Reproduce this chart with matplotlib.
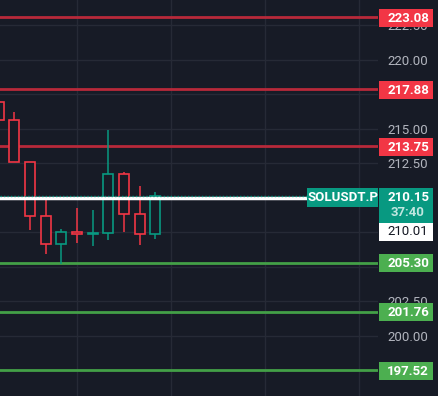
import matplotlib
matplotlib.use("Agg")
import matplotlib.pyplot as plt
import numpy as np
from matplotlib.patches import Rectangle
from matplotlib.transforms import blended_transform_factory

# ---- data ----
opens  = [216.92, 215.62, 212.57, 208.66, 206.63, 207.50, 207.36, 207.45, 211.70, 208.80, 207.36]
closes = [215.62, 212.57, 208.66, 206.63, 207.50, 207.36, 207.45, 211.70, 208.80, 207.36, 210.15]
highs  = [216.92, 216.22, 212.57, 209.91, 207.74, 209.26, 209.12, 214.91, 211.87, 210.86, 210.42]
lows   = [215.62, 212.57, 207.69, 205.95, 205.20, 206.75, 206.53, 206.96, 207.54, 206.60, 207.04]

red_levels = [223.08, 217.88, 213.75]
green_levels = [205.30, 201.76, 197.52]
last_price = 210.15
white_level = 210.01
symbol = "SOLUSDT.P"
countdown = "37:40"
y_ticks = [197.5, 200.0, 202.5, 205.0, 207.5, 210.0, 212.5, 215.0, 217.5, 220.0, 222.5]
# tick labels hidden behind price boxes in the reference
hidden_ticks = [197.5, 205.0, 207.5, 210.0, 217.5]

# ---- style ----
BG = "#171b26"
GRID = "#262a36"
RED = "#f23645"
TEAL = "#089981"
RED_LINE = "#b8293a"
GREEN = "#4caf50"
GREEN_LINE = "#43a047"
TICK = "#b2b5be"
FONT = "Roboto"

W, H = 438, 396
fig = plt.figure(figsize=(W / 100, H / 100), dpi=100)
fig.patch.set_facecolor(BG)
ax = fig.add_axes([0, 0, 378 / W, 1])
ax.set_facecolor(BG)
ymin, ymax = 195.64, 224.33
ax.set_xlim(0.08, 24.233)
ax.set_ylim(ymin, ymax)
upp = (ymax - ymin) / H  # data units per pixel

for s in ax.spines.values():
    s.set_visible(False)
ax.yaxis.tick_right()
ax.set_yticks(y_ticks)
ax.set_yticklabels(["" if v in hidden_ticks else f"{v:.2f}" for v in y_ticks],
                   fontsize=9.5, color=TICK, family=FONT)
ax.tick_params(axis="y", length=0, pad=7)
ax.set_xticks([5, 11, 17, 23])
ax.tick_params(axis="x", length=0, labelbottom=False)
ax.grid(True, color=GRID, lw=1)
ax.set_axisbelow(True)

# candles
bw = 0.64
for i, (o, c, h, l) in enumerate(zip(opens, closes, highs, lows)):
    col = TEAL if c >= o else RED
    top, bot = max(o, c), min(o, c)
    ax.vlines(i, top, h, color=col, lw=1.1, zorder=3)
    ax.vlines(i, l, bot, color=col, lw=1.1, zorder=3)
    ax.add_patch(Rectangle((i - bw / 2, bot), bw, max(top - bot, 0.05),
                           facecolor=BG, edgecolor=col, lw=1.2, zorder=4))

# horizontal levels
for v in red_levels:
    ax.axhline(v, color=RED_LINE, lw=2, zorder=2)
for v in green_levels:
    ax.axhline(v, color=GREEN_LINE, lw=2, zorder=2)
ax.axhline(white_level, color="white", lw=2.5, zorder=5)
ax.axhline(last_price, color=TEAL, lw=1, ls=(0, (1, 1.5)), zorder=5)

trans = blended_transform_factory(fig.transFigure, ax.transData)
bx0, bx1 = 379 / W, 433 / W
tx = 408 / W


def box(x0, x1, y0, y1, fc):
    fig.add_artist(Rectangle((x0, y0), x1 - x0, y1 - y0, transform=trans,
                             facecolor=fc, edgecolor="none", zorder=5))


def label(x, y, s, color, weight="bold"):
    fig.text(x, y, s, transform=trans, ha="center", va="center", color=color,
             fontsize=9.5, fontweight=weight, family=FONT, zorder=6)


for v in red_levels:
    box(bx0, bx1, v - 9.5 * upp, v + 8.5 * upp, RED)
    label(tx, v - 1 * upp, f"{v:.2f}", "white")
for v in green_levels:
    box(bx0, bx1, v - 9.5 * upp, v + 8.5 * upp, GREEN)
    label(tx, v - 1 * upp, f"{v:.2f}", "white")

# last price box (two lines)
box(bx0, bx1, last_price - 27 * upp, last_price + 7.5 * upp, TEAL)
label(tx, last_price - 1.5 * upp, f"{last_price:.2f}", "white")
label(tx, last_price - 16.5 * upp, countdown, "#bfe6df")
# white level box
box(bx0, bx1, last_price - 45 * upp, last_price - 27 * upp, "white")
label(tx, last_price - 36 * upp, f"{white_level:.2f}", "#131722", weight="normal")
# symbol label
box(307 / W, 377.7 / W, last_price - 11 * upp, last_price + 7.5 * upp, TEAL)
label(342.5 / W, last_price - 1.5 * upp, symbol, "white")

fig.savefig("out.png", dpi=100, facecolor=BG)
